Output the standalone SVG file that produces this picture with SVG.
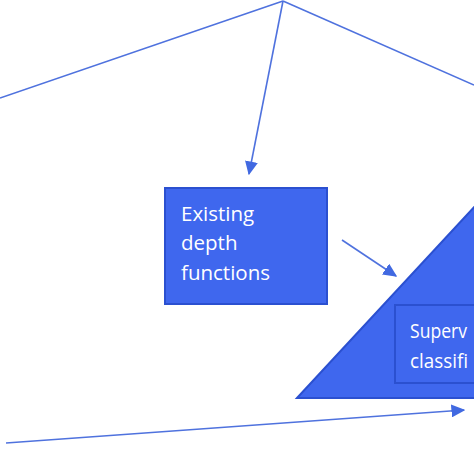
<svg xmlns="http://www.w3.org/2000/svg" width="474" height="474" viewBox="0 0 474 474">
<style>
.ln{stroke:#4F72DE;stroke-width:1.6;fill:none}
.shape{fill:#3F67EE;stroke:#2B50D0;stroke-width:2}
.lbl{font-family:"Open Sans","Liberation Sans",sans-serif;font-size:20.5px;fill:#FFFFFF}
</style>
<defs>
<marker id="ah" viewBox="0 0 10 10" refX="9" refY="5" markerWidth="14" markerHeight="13" markerUnits="userSpaceOnUse" orient="auto" preserveAspectRatio="none">
<path d="M0,0 L10,5 L0,10 Z" fill="#4169E1"/>
</marker>
</defs>
<rect width="474" height="474" fill="#FFFFFF"/>
<g id="triangle">
<path class="shape" d="M297,398 L476,205 L476,398 Z"/>
</g>
<g id="supervised">
<rect class="shape" x="395" y="305" width="82" height="78"/>
<text class="lbl" x="410" y="338" textLength="57" lengthAdjust="spacingAndGlyphs">Superv</text>
<text class="lbl" x="410" y="368" textLength="58" lengthAdjust="spacingAndGlyphs">classifi</text>
</g>
<g id="existing">
<rect class="shape" x="165" y="188" width="162" height="116"/>
<text class="lbl" x="181" y="221">Existing</text>
<text class="lbl" x="181" y="250">depth</text>
<text class="lbl" x="181" y="280">functions</text>
</g>
<g id="connectors">
<line class="ln" x1="283" y1="1" x2="0" y2="98"/>
<line class="ln" x1="283" y1="1" x2="474" y2="85"/>
<line class="ln" x1="283" y1="1" x2="249" y2="174" marker-end="url(#ah)"/>
<line class="ln" x1="342" y1="240" x2="396" y2="276" marker-end="url(#ah)"/>
<line class="ln" x1="6" y1="443" x2="464" y2="410" marker-end="url(#ah)"/>
</g>
</svg>
